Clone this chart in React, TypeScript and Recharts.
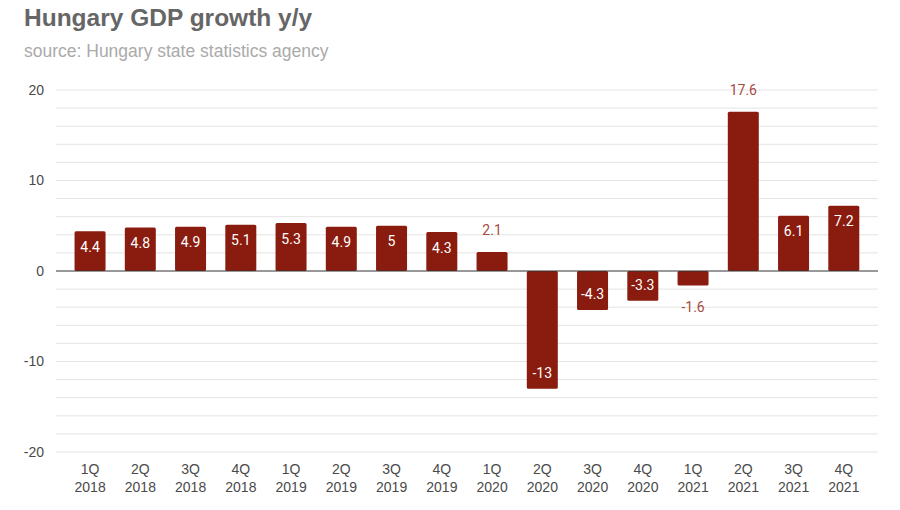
import React from 'react';
import {
  BarChart,
  Bar,
  XAxis,
  YAxis,
  CartesianGrid,
  ReferenceLine,
  LabelList,
} from 'recharts';

const quarters = ['1Q', '2Q', '3Q', '4Q', '1Q', '2Q', '3Q', '4Q', '1Q', '2Q', '3Q', '4Q', '1Q', '2Q', '3Q', '4Q'];
const years = ['2018', '2018', '2018', '2018', '2019', '2019', '2019', '2019', '2020', '2020', '2020', '2020', '2021', '2021', '2021', '2021'];
const growth = [4.4, 4.8, 4.9, 5.1, 5.3, 4.9, 5, 4.3, 2.1, -13, -4.3, -3.3, -1.6, 17.6, 6.1, 7.2];

const yDomain = [-20, 20];
const yTicks = [-20, -10, 0, 10, 20];
const gridValues = [-20, -18, -16, -14, -12, -10, -8, -6, -4, -2, 2, 4, 6, 8, 10, 12, 14, 16, 18, 20];

const data = growth.map((v, i) => ({ name: `${quarters[i]} ${years[i]}`, value: v }));

const BAR = '#891c0e';
const AXIS_FONT = '"Liberation Sans", Arial, sans-serif';
const LABEL_FONT = 'Roboto, "Liberation Sans", Arial, sans-serif';

// minor gridlines every 2 units, placed through the y scale
const gridRows = ({ yAxis, offset }: any) =>
  gridValues.map((v) =>
    yAxis && typeof yAxis.scale === 'function'
      ? yAxis.scale(v)
      : offset.top + ((yDomain[1] - v) / (yDomain[1] - yDomain[0])) * offset.height,
  );

const QuarterTick = (props: any) => {
  const { x, y, payload } = props;
  const [q, yr] = String(payload.value).split(' ');
  return (
    <text x={x} y={y} textAnchor="middle" fill="#4a4a4a" fontSize={14} fontFamily={AXIS_FONT}>
      <tspan x={x} dy={14}>{q}</tspan>
      <tspan x={x} dy={18}>{yr}</tspan>
    </text>
  );
};

// small bars (and the tall 2Q 2021 one) get their value outside the bar
const ValueLabel = (props: any) => {
  const { x, y, width, height, value } = props;
  const top = Math.min(y, y + height);
  const bottom = Math.max(y, y + height);
  const positive = value >= 0;
  const end = positive ? top : bottom;
  const outside = Math.abs(value) < 2.5 || value > 15;
  const dir = positive ? -1 : 1;
  const ty = outside ? end + dir * 22 : end - dir * 15.5;
  return (
    <text
      x={x + width / 2}
      y={ty}
      textAnchor="middle"
      dominantBaseline="central"
      fill={outside ? '#a84b3f' : '#fff'}
      fontSize={14}
      fontFamily={LABEL_FONT}
    >
      {value}
    </text>
  );
};

export default function App() {
  return (
    <div style={{ position: 'relative', width: 900, height: 510, background: '#fff', overflow: 'hidden' }}>
      <style>{'body{margin:0}'}</style>
      <div
        style={{
          position: 'absolute',
          left: 24,
          top: 6,
          lineHeight: 1,
          fontFamily: AXIS_FONT,
          fontWeight: 'bold',
          fontSize: 24.5,
          color: '#666',
        }}
      >
        Hungary GDP growth y/y
      </div>
      <div
        style={{
          position: 'absolute',
          left: 24,
          top: 43,
          lineHeight: 1,
          fontFamily: AXIS_FONT,
          fontSize: 17.5,
          color: '#aaa',
        }}
      >
        source: Hungary state statistics agency
      </div>
      <BarChart
        width={900}
        height={510}
        data={data}
        margin={{ top: 90, right: 22, bottom: 8, left: 0 }}
        barCategoryGap="19%"
      >
        <CartesianGrid vertical={false} stroke="#e4e4e4" horizontalCoordinatesGenerator={gridRows} />
        <XAxis
          dataKey="name"
          axisLine={false}
          tickLine={false}
          interval={0}
          height={50}
          padding={{ left: 9, right: 9 }}
          tick={<QuarterTick />}
        />
        <YAxis
          domain={yDomain}
          ticks={yTicks}
          width={56}
          axisLine={false}
          tickLine={false}
          tickMargin={6}
          tick={{ fill: '#4a4a4a', fontSize: 14, fontFamily: AXIS_FONT }}
        />
        <ReferenceLine y={0} stroke="#333" />
        <Bar dataKey="value" fill={BAR} radius={1.5} isAnimationActive={false}>
          <LabelList dataKey="value" content={<ValueLabel />} />
        </Bar>
      </BarChart>
    </div>
  );
}
